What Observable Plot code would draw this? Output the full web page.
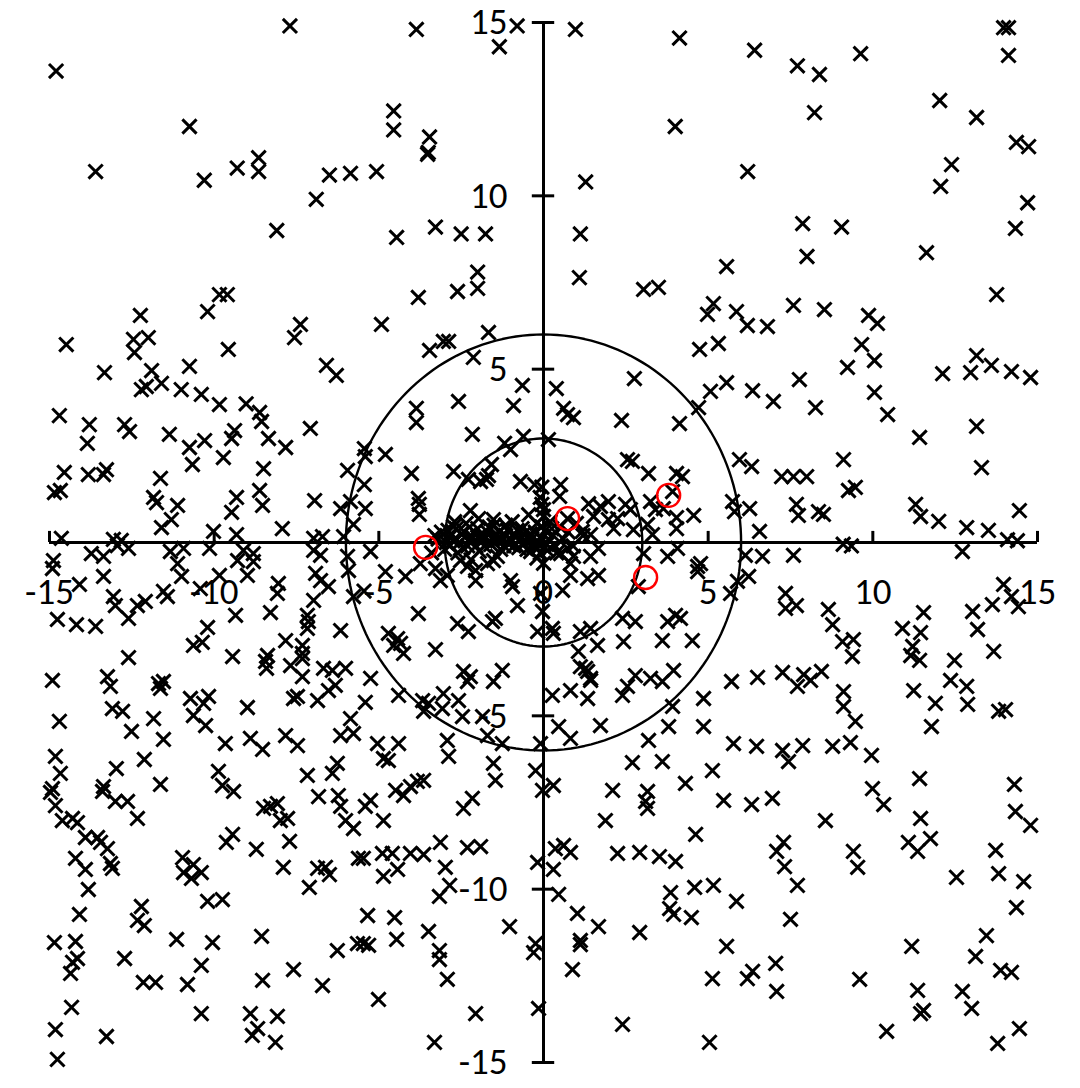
<!DOCTYPE html>
<html>
<head>
<meta charset="utf-8">
<script src="https://cdn.jsdelivr.net/npm/d3@7"></script>
<script src="https://cdn.jsdelivr.net/npm/@observablehq/plot@0.6"></script>
<style>
html,body{margin:0;padding:0;background:#fff;}
#chart svg{display:block;}
</style>
</head>
<body>
<div id="chart"></div>
<script>
// ---- data ----
const xTicks = [-15, -10, -5, 0, 5, 10, 15];
const yTicks = [-15, -10, -5, 5, 10, 15];
const circleRadii = [3, 6];
const highlighted = [[-3.58, -0.14], [0.73, 0.69], [3.8, 1.36], [3.1, -1.01]];

const topLeft = [[-7.7,14.9],[-14.8,13.6],[-10.75,12.0],[-13.6,10.7],[-10.3,10.45],[-9.3,10.8],[-8.65,11.1],[-8.65,10.7],[-6.5,10.6],[-5.86,10.65],[-6.9,9.9],[-8.1,9.0]];
const topCenter = [[-3.86,14.8],[-0.8,14.9],[-1.34,14.3],[0.97,14.8],[4.13,14.55],[-4.55,12.45],[-4.55,11.9],[-3.46,11.7],[-3.5,11.25],[-3.52,11.2],[-5.07,10.7],[4.0,12.0],[1.28,10.4],[-4.46,8.8],[-3.28,9.1],[-2.5,8.9],[-1.76,8.9],[1.12,8.9],[-2.0,7.8]];
const topRight = [[13.97,14.85],[14.12,14.85],[14.12,14.05],[6.41,14.2],[7.71,13.75],[8.38,13.5],[9.63,14.1],[8.23,12.4],[12.03,12.75],[13.15,12.26],[14.36,11.54],[14.73,11.42],[12.39,10.9],[12.06,10.27],[14.7,9.8],[14.33,9.06],[6.2,10.7],[7.87,9.2],[9.05,9.1],[8.0,8.25],[11.63,8.36],[5.56,7.96]];
const midLeft = [[-9.84,7.15],[-9.6,7.15],[-10.2,6.66],[-12.24,6.55],[-12.45,5.86],[-12.0,5.91],[-12.42,5.48],[-14.49,5.71],[-9.57,5.57],[-7.38,6.29],[-7.56,5.91],[-13.33,4.9],[-11.9,4.96],[-10.75,5.08],[-6.59,5.11],[-6.29,4.82],[-12.21,4.41],[-12.06,4.5],[-11.6,4.59],[-11.0,4.41],[-10.39,4.27],[-9.84,3.98],[-9.03,4.0],[-8.62,3.75],[-8.56,3.49],[-14.7,3.66],[-13.79,3.4],[-12.72,3.4],[-12.57,3.2],[-13.85,2.86],[-11.36,3.12],[-10.75,2.74],[-10.29,2.94],[-9.38,3.23],[-9.47,3.0],[-8.35,3.0],[-7.83,2.74],[-7.08,3.29],[-9.72,2.45],[-10.66,2.25],[-8.5,2.13],[-14.55,2.02],[-13.82,1.96],[-13.36,1.96],[-13.27,2.1],[-11.63,1.85],[-14.85,1.44],[-14.67,1.5],[-11.84,1.3],[-11.75,1.15],[-11.11,1.07],[-9.32,1.3],[-8.62,1.5],[-8.53,1.07],[-9.47,0.87],[-6.95,1.21],[-5.95,2.08],[-6.16,0.98],[-11.6,0.43],[-11.3,0.66],[-10.02,0.32],[-9.32,0.23],[-7.93,0.4],[-6.71,0.17],[-6.98,0.12],[-14.64,0.12],[-13.06,0.09],[-12.82,0.06],[-5.86,1.18],[-5.77,0.52],[-6.07,0.17]];
const midCenter = [[1.09,7.64],[-2.0,7.33],[-2.61,7.24],[-3.8,7.07],[3.04,7.3],[3.49,7.36],[5.16,6.89],[4.98,6.58],[-4.92,6.29],[-3.46,5.54],[-3.04,5.8],[-2.88,5.8],[-1.67,6.06],[-2.13,5.34],[4.74,5.57],[5.31,5.74],[-0.64,4.53],[0.39,4.44],[2.76,4.73],[5.07,4.36],[4.71,3.89],[-2.58,4.07],[-0.91,3.95],[-3.86,3.87],[-3.86,3.46],[0.61,3.87],[0.73,3.69],[0.91,3.6],[2.37,3.52],[4.13,3.43],[-2.16,3.12],[-1.18,2.86],[-1.0,2.68],[-0.61,3.06],[0.15,2.97],[-5.44,2.71],[-5.41,2.48],[-4.8,2.54],[-4.01,1.99],[-2.73,2.05],[-1.58,2.25],[-1.67,1.93],[-1.91,1.76],[-1.73,1.82],[-2.28,1.82],[-0.7,1.76],[-0.27,1.67],[2.55,2.39],[2.7,2.34],[3.19,1.99],[4.04,1.99],[4.22,1.9],[-5.44,1.67],[-3.8,1.27],[-3.77,1.1],[-3.77,0.81],[-5.41,0.98],[0.52,1.67],[0.49,1.33],[1.37,1.12],[1.73,1.04],[1.97,1.18],[2.49,1.1],[2.64,0.95],[3.25,1.18],[3.4,0.95],[3.64,0.98],[3.92,1.47],[4.56,0.78],[4.04,0.72],[4.04,0.4],[-2.22,0.92],[-1.97,0.69],[-1.52,0.66],[-2.73,0.46],[0.73,0.69],[1.52,0.75],[1.97,0.66],[2.25,0.69],[2.13,0.4],[2.73,0.37],[3.16,0.52],[3.31,0.23],[1.18,0.32],[1.43,0.23]];
const midRight = [[13.76,7.15],[5.86,6.66],[6.19,6.26],[6.8,6.23],[7.59,6.84],[8.53,6.72],[9.87,6.55],[10.14,6.32],[9.66,5.71],[10.05,5.25],[9.23,5.05],[5.56,4.61],[6.35,4.38],[6.98,4.07],[7.77,4.7],[8.26,3.89],[10.05,4.33],[10.45,3.69],[12.12,4.87],[13.15,5.39],[12.97,4.9],[13.6,5.11],[14.21,4.93],[14.79,4.76],[11.42,3.03],[13.15,3.35],[13.3,2.16],[5.95,2.39],[6.32,2.19],[7.23,1.9],[7.59,1.9],[7.99,1.9],[9.11,2.39],[9.26,1.5],[9.47,1.59],[5.74,1.18],[5.8,0.89],[6.26,0.98],[7.68,1.1],[7.74,0.78],[8.35,0.89],[8.5,0.81],[6.56,0.32],[11.3,1.1],[11.45,0.75],[12.0,0.61],[12.85,0.43],[13.51,0.35],[14.45,0.92],[14.09,0.08],[14.39,0.05],[9.1,-0.05],[9.35,-0.1]];
const centerCluster = [[-3.2,0.1],[-3.0,-0.2],[-2.9,0.35],[-2.75,0.05],[-2.6,-0.3],[-2.5,0.25],[-2.35,0.55],[-2.3,-0.1],[-2.15,0.15],[-2.0,0.4],[-1.95,-0.25],[-1.85,0.05],[-1.7,0.3],[-1.6,-0.05],[-1.5,0.5],[-1.45,0.2],[-1.3,-0.2],[-1.25,0.1],[-1.1,0.35],[-1.05,-0.05],[-0.95,0.6],[-0.85,0.2],[-0.75,-0.15],[-0.65,0.4],[-0.55,0.05],[-0.45,0.8],[-0.4,0.25],[-0.3,-0.1],[-0.2,0.55],[-0.1,0.15],[0.0,0.95],[0.05,0.35],[0.1,-0.05],[0.2,0.6],[0.3,0.2],[0.4,-0.3],[0.5,0.45],[0.6,0.1],[0.75,0.3],[0.9,-0.1],[1.0,0.55],[1.2,0.2],[-0.1,1.3],[-0.05,1.6],[0.0,-0.6],[-0.2,-0.45],[-2.7,0.6],[-3.4,-0.3],[-2.2,-0.5],[-1.4,-0.4],
  [-3.1,0.3],[-2.95,0.0],[-2.8,0.2],[-2.65,0.4],[-2.55,0.0],[-2.45,-0.15],[-2.4,0.3],[-2.25,0.05],[-2.1,0.3],[-2.05,-0.1],[-1.9,0.2],[-1.8,-0.1],[-1.75,0.15],[-1.65,0.45],[-1.55,0.1],[-1.4,0.05],[-1.35,0.3],[-1.2,-0.1],[-1.15,0.2],[-1.0,0.1],[-0.9,-0.1],[-0.8,0.35],[-0.7,0.1],[-0.6,0.25],[-0.5,-0.2],[-0.35,0.1],[-0.25,0.3],[-0.15,-0.05],[-0.05,0.45],[0.15,0.1],[0.25,0.4],[0.35,-0.1],[-0.05,1.1],[0.0,0.75],[-0.1,-0.3],[-3.3,0.2],[-2.85,-0.1],[-2.0,0.15],[-1.15,0.5],[-0.6,-0.05]];
const lowLeft = [[-14.88,-0.52],[-14.91,-0.75],[-13.73,-0.32],[-13.36,-0.4],[-12.94,-0.09],[-12.6,-0.17],[-11.33,-0.26],[-10.93,-0.17],[-11.11,-0.61],[-10.14,-0.17],[-9.29,-0.52],[-9.11,-0.23],[-8.81,-0.32],[-8.81,-0.55],[-8.99,-0.95],[-9.84,-0.95],[-10.99,-0.98],[-13.36,-0.98],[-14.09,-1.21],[-6.98,-0.23],[-6.77,-0.37],[-6.92,-0.89],[-6.77,-1.1],[-6.53,-1.27],[-6.98,-1.67],[-5.95,-0.4],[-5.92,-0.81],[-5.77,-1.56],[-8.05,-1.18],[-8.08,-1.47],[-10.42,-1.33],[-11.54,-1.41],[-11.42,-1.56],[-13.06,-1.56],[-13.0,-1.82],[-12.33,-1.82],[-12.09,-1.7],[-12.6,-2.19],[-14.76,-2.22],[-14.18,-2.37],[-13.6,-2.42],[-9.35,-2.1],[-8.29,-2.02],[-7.17,-2.1],[-7.14,-2.28],[-7.17,-2.48],[-6.16,-2.54],[-10.2,-2.45],[-10.63,-2.97],[-10.36,-2.88],[-7.83,-2.83],[-7.32,-2.97],[-7.32,-3.2],[-7.32,-3.35],[-9.44,-3.29],[-12.6,-3.32],[-8.38,-3.26],[-8.44,-3.43],[-8.41,-3.63],[-7.68,-3.55],[-7.32,-3.87],[-6.68,-3.63],[-6.41,-3.69],[-6.01,-3.63],[-14.91,-3.98],[-13.24,-3.87],[-13.15,-4.15],[-11.69,-4.07],[-11.54,-4.01],[-11.63,-4.21],[-10.72,-4.5],[-10.17,-4.44],[-10.32,-4.64],[-10.63,-4.99],[-10.26,-5.28],[-8.99,-4.76],[-7.59,-4.5],[-7.47,-4.44],[-6.86,-4.56],[-6.53,-4.27],[-6.32,-4.12],[-13.09,-4.79],[-12.78,-4.87],[-14.7,-5.16],[-11.84,-5.08],[-12.51,-5.45],[-11.54,-5.68],[-9.66,-5.8],[-8.9,-5.65],[-8.53,-5.97],[-7.83,-5.57],[-7.47,-5.86],[-5.86,-5.08],[-6.16,-5.57],[-5.77,-5.51],[-14.82,-6.17],[-14.67,-6.66],[-12.97,-6.52],[-12.12,-6.26],[-9.87,-6.6],[-9.75,-7.01],[-9.41,-7.18],[-11.63,-6.98],[-13.36,-7.04],[-13.39,-7.18],[-14.91,-7.1],[-14.97,-7.21],[-14.82,-7.59],[-13.0,-7.47],[-12.63,-7.47],[-7.17,-6.72],[-6.41,-6.66],[-6.26,-6.37],[-6.83,-7.33],[-6.23,-7.3],[-6.16,-7.61],[-8.5,-7.67],[-8.29,-7.61],[-8.08,-7.53]];
const lowCenter = [[-5.25,-0.26],[-4.8,-0.84],[-4.19,-0.98],[-3.74,-0.61],[-3.28,-0.75],[-3.13,-1.1],[-2.92,-0.95],[-2.52,-0.52],[-2.31,-0.69],[-2.06,-1.1],[-2.06,-0.81],[-1.7,-0.61],[-1.52,-0.52],[-1.0,-1.1],[-0.94,-1.27],[-0.39,-0.26],[-0.18,-0.17],[0.12,-0.23],[0.52,-0.32],[0.73,-0.17],[0.91,-0.4],[0.82,-0.61],[1.43,-0.4],[1.67,-0.17],[0.82,-0.95],[1.34,-1.04],[1.67,-0.95],[0.58,-1.38],[3.04,-0.32],[3.77,-0.4],[4.07,-0.17],[4.68,-0.69],[4.77,-0.61],[4.68,-0.84],[2.88,-1.27],[-0.79,-1.82],[-0.09,-1.47],[-0.03,-1.99],[-0.18,-2.57],[0.27,-2.48],[0.3,-2.62],[1.12,-2.57],[1.43,-2.48],[2.4,-2.19],[2.79,-2.28],[3.77,-2.28],[4.01,-2.1],[4.16,-2.19],[2.43,-2.86],[3.61,-2.83],[4.52,-2.83],[1.64,-2.97],[1.06,-3.14],[1.12,-3.58],[1.28,-3.63],[1.34,-3.72],[1.43,-3.92],[-3.8,-2.05],[-2.61,-2.34],[-2.28,-2.57],[-1.55,-2.28],[-1.46,-2.19],[-4.71,-2.62],[-4.43,-2.77],[-4.55,-2.97],[-4.25,-3.2],[-4.34,-2.91],[-3.28,-3.09],[-5.25,-3.92],[-5.41,-4.61],[-4.4,-4.41],[-3.67,-4.56],[-3.49,-4.64],[-3.64,-4.87],[-3.04,-4.36],[-3.07,-4.79],[-2.58,-4.56],[-2.46,-5.02],[-2.43,-3.72],[-2.22,-3.87],[-2.31,-4.01],[-1.25,-3.69],[-1.52,-4.01],[-1.85,-5.02],[0.27,-4.41],[0.82,-4.27],[1.34,-4.5],[1.43,-3.98],[2.4,-4.41],[2.55,-4.15],[2.79,-3.84],[3.25,-3.92],[3.61,-4.01],[3.95,-3.69],[3.92,-4.73],[4.86,-4.5],[0.46,-5.31],[0.82,-5.65],[1.73,-5.28],[3.8,-5.31],[4.86,-5.31],[3.19,-5.71],[2.7,-6.35],[3.61,-6.32],[5.13,-6.58],[4.31,-6.95],[2.1,-7.15],[3.16,-7.18],[3.1,-7.47],[3.16,-7.67],[-0.09,-5.8],[-1.7,-5.57],[-1.25,-5.8],[-2.92,-5.71],[-2.88,-6.17],[-1.52,-6.37],[-1.46,-6.86],[-0.24,-6.58],[-0.03,-7.15],[0.3,-7.01],[-5.04,-5.8],[-4.4,-5.8],[-4.86,-6.23],[-4.71,-6.29],[-3.83,-6.89],[-3.64,-6.86],[-4.04,-7.04],[-4.25,-7.3],[-4.49,-7.15],[-5.25,-7.44],[-5.41,-7.61],[-2.16,-7.38],[-2.43,-7.67],[-5.45,-1.4]];
const lowRight = [[6.13,-0.37],[6.65,-0.4],[7.59,-0.37],[12.72,-0.26],[5.89,-1.12],[6.23,-0.98],[5.68,-1.47],[7.35,-1.47],[7.35,-1.9],[7.68,-1.82],[8.65,-1.93],[8.78,-2.37],[9.08,-2.86],[9.41,-2.8],[9.38,-3.29],[13.97,-1.21],[14.21,-1.56],[14.42,-1.85],[13.63,-1.79],[13.03,-1.99],[13.18,-2.51],[13.67,-3.14],[11.54,-2.02],[11.45,-2.6],[10.9,-2.48],[11.21,-3.0],[11.15,-3.26],[11.42,-3.4],[12.48,-3.4],[12.36,-3.98],[12.85,-4.15],[12.88,-4.67],[13.82,-4.87],[14.03,-4.82],[11.24,-4.27],[11.9,-4.64],[11.78,-5.31],[5.71,-4.01],[6.5,-3.89],[7.26,-3.75],[7.71,-4.15],[7.9,-3.81],[8.11,-3.98],[8.44,-3.72],[9.11,-4.3],[9.11,-4.73],[9.47,-5.16],[5.77,-5.8],[6.47,-5.88],[7.26,-6.0],[7.44,-6.32],[7.87,-5.86],[8.78,-5.88],[9.32,-5.77],[9.96,-6.14],[11.42,-6.81],[14.3,-6.98],[9.99,-7.1],[10.33,-7.56],[5.47,-7.44],[6.32,-7.56],[6.95,-7.38],[14.33,-7.76]];
const bottomLeft = [[-14.61,-8.02],[-14.3,-7.96],[-14.15,-8.08],[-12.33,-7.96],[-13.91,-8.51],[-13.54,-8.51],[-13.45,-8.65],[-13.24,-8.83],[-14.21,-9.11],[-13.91,-9.43],[-13.15,-9.26],[-13.09,-9.4],[-13.82,-10.01],[-14.09,-10.73],[-14.85,-11.54],[-14.21,-11.51],[-14.15,-12.0],[-14.3,-12.11],[-14.36,-12.43],[-14.33,-13.41],[-14.82,-14.05],[-14.76,-14.91],[-13.27,-14.25],[-12.21,-10.5],[-12.33,-10.9],[-12.12,-11.05],[-12.72,-12.0],[-12.15,-12.69],[-11.78,-12.69],[-11.14,-11.45],[-10.96,-9.09],[-10.63,-9.29],[-10.93,-9.52],[-10.69,-9.69],[-10.39,-9.52],[-10.2,-10.35],[-9.75,-10.3],[-10.05,-11.54],[-10.39,-12.2],[-10.81,-12.75],[-10.39,-13.59],[-9.63,-8.65],[-9.44,-8.42],[-8.72,-8.85],[-7.99,-8.02],[-7.77,-7.96],[-7.71,-8.62],[-7.9,-9.37],[-6.86,-9.4],[-6.62,-9.37],[-6.5,-9.58],[-7.11,-9.95],[-6.01,-8.02],[-5.77,-8.25],[-5.62,-9.11],[-8.56,-11.36],[-8.53,-12.63],[-7.59,-12.32],[-6.26,-11.77],[-5.65,-11.57],[-6.71,-12.78],[-8.9,-13.59],[-8.68,-14.02],[-8.84,-14.22],[-8.08,-13.67],[-8.14,-14.42]];
const bottomCenter = [[-4.86,-8.02],[1.88,-8.02],[4.62,-8.42],[-5.47,-9.11],[-4.89,-8.97],[-4.59,-8.97],[-4.04,-8.97],[-3.64,-9.0],[-3.13,-8.65],[-2.31,-8.8],[-1.91,-8.77],[-4.86,-9.63],[-4.43,-9.43],[-2.98,-9.37],[-2.85,-9.89],[-3.16,-10.21],[-0.18,-9.23],[0.36,-8.83],[0.61,-8.74],[0.82,-8.94],[0.3,-9.43],[0.46,-10.15],[2.25,-8.97],[2.92,-8.94],[3.52,-9.06],[4.01,-9.2],[3.86,-10.1],[4.59,-9.95],[5.16,-9.89],[3.83,-10.56],[3.95,-10.73],[4.49,-10.82],[-5.34,-10.76],[-4.52,-10.82],[-3.49,-11.22],[-5.47,-11.57],[-5.31,-11.62],[-4.46,-11.45],[-3.16,-11.77],[-3.16,-12.03],[-2.92,-12.6],[-1.03,-11.08],[-0.24,-11.57],[-0.3,-11.83],[1.03,-10.7],[1.67,-11.08],[1.12,-11.48],[1.12,-11.6],[2.92,-11.25],[0.88,-12.32],[5.13,-12.58],[-5.01,-13.18],[-2.06,-13.59],[-0.15,-13.44],[2.4,-13.9],[-3.31,-14.42],[5.04,-14.42]];
const bottomRight = [[8.56,-8.02],[11.45,-7.96],[14.79,-8.16],[7.29,-8.65],[7.08,-8.91],[7.32,-9.35],[7.71,-9.89],[5.86,-10.35],[7.5,-10.87],[9.41,-8.91],[9.54,-9.37],[11.08,-8.65],[11.36,-8.91],[11.75,-8.54],[13.73,-8.88],[13.82,-9.55],[14.58,-9.78],[12.54,-9.66],[14.36,-10.53],[5.56,-11.65],[7.05,-12.14],[6.35,-12.37],[6.19,-12.58],[7.08,-12.95],[9.6,-12.6],[11.18,-11.65],[11.36,-12.92],[11.54,-13.5],[11.45,-13.59],[10.42,-14.1],[13.45,-11.34],[13.12,-11.94],[13.88,-12.34],[14.21,-12.4],[12.72,-12.95],[13.0,-13.44],[14.45,-14.02],[13.79,-14.45]];

// ---- build tables ----
const points = [topLeft, topCenter, topRight, midLeft, midCenter, midRight, centerCluster,
  lowLeft, lowCenter, lowRight, bottomLeft, bottomCenter, bottomRight]
  .flat().map(([x, y]) => ({x, y}));
const rings = circleRadii.flatMap(r =>
  d3.range(0, 361, 2).map(a => ({r, x: r * Math.cos(a * Math.PI / 180), y: r * Math.sin(a * Math.PI / 180)})));
const marked = highlighted.map(([x, y]) => ({x, y}));

const font = "Carlito, Calibri, 'Open Sans', 'Liberation Sans', sans-serif";

const chart = Plot.plot({
  width: 1080,
  height: 1088,
  marginLeft: 49,
  marginRight: 43,
  marginTop: 22,
  marginBottom: 26,
  x: {domain: [-15, 15], axis: null},
  y: {domain: [-15, 15], axis: null},
  style: {background: "#fff", fontFamily: font},
  marks: [
    Plot.ruleY([0], {x1: -15, x2: 15, stroke: "#000", strokeWidth: 3}),
    Plot.ruleX([0], {y1: -15, y2: 15, stroke: "#000", strokeWidth: 3}),
    Plot.ruleX(xTicks, {x: d => d, y1: 0, y2: 0.32, stroke: "#000", strokeWidth: 3}),
    Plot.ruleY(yTicks, {y: d => d, x1: -0.34, x2: 0.34, stroke: "#000", strokeWidth: 3}),
    Plot.line(rings, {x: "x", y: "y", z: "r", stroke: "#000", strokeWidth: 2.4}),
    Plot.dot(points, {x: "x", y: "y", symbol: "times", r: 6.5, stroke: "#000", strokeWidth: 3}),
    Plot.dot(marked, {x: "x", y: "y", r: 11.5, stroke: "#ff0000", strokeWidth: 2.4, fill: "none"}),
    Plot.text(xTicks, {x: d => d, y: 0, dy: 50, text: d => String(d), fontSize: 37, fill: "#000", textAnchor: "middle"}),
    Plot.text(yTicks, {x: 0, y: d => d, dx: -36, text: d => String(d), fontSize: 37, fill: "#000", textAnchor: "end"})
  ]
});
document.getElementById("chart").appendChild(chart);
</script>
</body>
</html>
